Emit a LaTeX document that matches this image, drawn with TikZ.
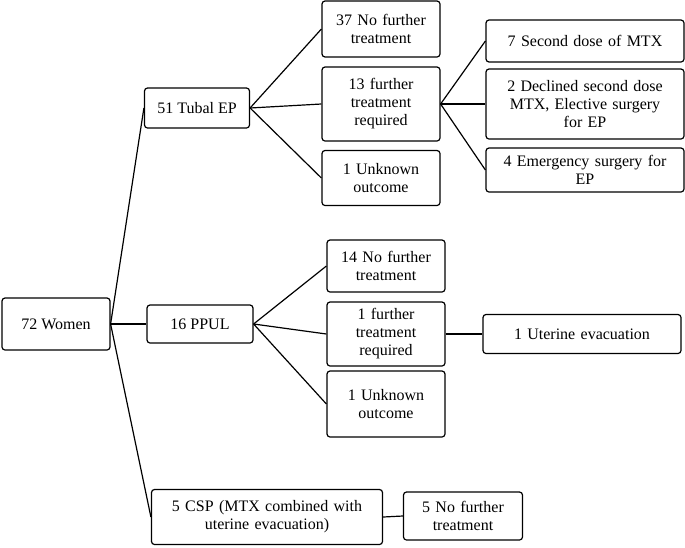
\documentclass[tikz,border=0pt]{standalone}
\usepackage{fontspec}
\setmainfont{Liberation Serif}
\begin{document}
\begin{tikzpicture}[x=1pt,y=-1pt,
 b/.style={draw,line width=1.2pt,rounded corners=3pt,align=center,inner sep=2pt,font=\fontsize{16}{18}\selectfont},
 l/.style={line width=1.2pt}]
\useasboundingbox (0,0) rectangle (685,547);
\node[b,minimum width=108,minimum height=52] (w) at (56,324) {72 Women};
\node[b,minimum width=105,minimum height=40] (t) at (197,108) {51 Tubal EP};
\node[b,minimum width=118,minimum height=56,text width=112] (t1) at (381,29) {37 No further\\treatment};
\node[b,minimum width=118,minimum height=74,text width=112] (t2) at (381,104) {13 further\\treatment\\required};
\node[b,minimum width=118,minimum height=55,text width=112] (t3) at (381,178) {1 Unknown\\outcome};
\node[b,minimum width=198,minimum height=42,text width=192] (m1) at (585,41) {7 Second dose of MTX};
\node[b,minimum width=198,minimum height=70,text width=192] (m2) at (585,104) {2 Declined second dose\\MTX, Elective surgery\\for EP};
\node[b,minimum width=198,minimum height=44,text width=192] (m3) at (585,170) {4 Emergency surgery for\\EP};
\node[b,minimum width=106,minimum height=38] (p) at (200,324) {16 PPUL};
\node[b,minimum width=118,minimum height=52,text width=112] (p1) at (386,266) {14 No further\\treatment};
\node[b,minimum width=118,minimum height=64,text width=112] (p2) at (386,334) {1 further\\treatment\\required};
\node[b,minimum width=198,minimum height=39,text width=192] (u) at (582,334) {1 Uterine evacuation};
\node[b,minimum width=118,minimum height=66,text width=112] (p3) at (386,404) {1 Unknown\\outcome};
\node[b,minimum width=231,minimum height=55,text width=225] (c) at (267,517) {5 CSP (MTX combined with\\uterine evacuation)};
\node[b,minimum width=119,minimum height=48,text width=113] (c1) at (463,516) {5 No further\\treatment};
\draw[l] (w.east) -- (p.west);
\draw[l] (w.east) -- (t.west);
\draw[l] (w.east) -- (c.west);
\foreach \n in {t1,t2,t3} \draw[l] (t.east) -- (\n.west);
\foreach \n in {m1,m2,m3} \draw[l] (t2.east) -- (\n.west);
\foreach \n in {p1,p2,p3} \draw[l] (p.east) -- (\n.west);
\draw[l] (p2.east) -- (u.west);
\draw[l] (c.east) -- (c1.west);
\end{tikzpicture}
\end{document}
